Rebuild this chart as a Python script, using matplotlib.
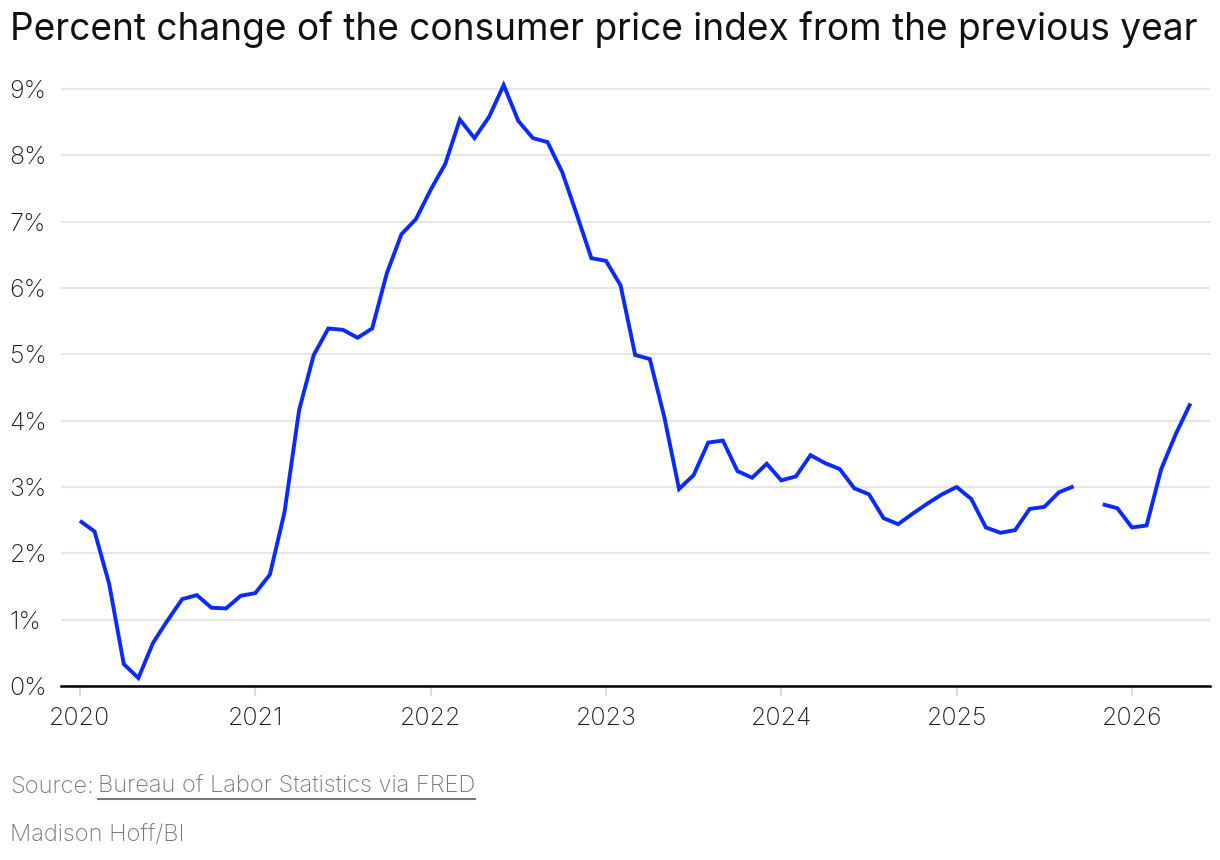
import numpy as np
import matplotlib.pyplot as plt
from matplotlib.lines import Line2D

# Monthly CPI percent change from a year earlier, Jan 2020 - May 2026 (Oct 2025 missing)
START_YEAR = 2020
CPI_YOY = [
    2.49, 2.33, 1.54, 0.33, 0.12, 0.65, 0.99, 1.31, 1.37, 1.18, 1.17, 1.36,   # 2020
    1.40, 1.68, 2.62, 4.16, 4.99, 5.39, 5.37, 5.25, 5.39, 6.22, 6.81, 7.04,   # 2021
    7.48, 7.87, 8.54, 8.26, 8.58, 9.06, 8.52, 8.26, 8.20, 7.75, 7.11, 6.45,   # 2022
    6.41, 6.04, 4.99, 4.93, 4.05, 2.97, 3.18, 3.67, 3.70, 3.24, 3.14, 3.35,   # 2023
    3.10, 3.16, 3.48, 3.36, 3.27, 2.98, 2.89, 2.53, 2.44, 2.60, 2.75, 2.89,   # 2024
    3.00, 2.82, 2.39, 2.31, 2.35, 2.67, 2.70, 2.92, 3.01, np.nan, 2.74, 2.68,  # 2025
    2.39, 2.42, 3.27, 3.80, 4.26,                                              # 2026
]
YEAR_TICKS = [2020, 2021, 2022, 2023, 2024, 2025, 2026]
PCT_TICKS = [0, 1, 2, 3, 4, 5, 6, 7, 8, 9]

TITLE = "Percent change of the consumer price index from the previous year"
SOURCE_LABEL = "Source:"
SOURCE_LINK = "Bureau of Labor Statistics via FRED"
CREDIT = "Madison Hoff/BI"

plt.rcParams['font.family'] = ['Inter', 'DejaVu Sans']

x = START_YEAR + np.arange(len(CPI_YOY)) / 12.0
y = np.array(CPI_YOY, dtype=float)

fig = plt.figure(figsize=(12.2, 8.6), dpi=100)
ax = fig.add_axes([61 / 1220, 1 - 686 / 860, (1210 - 61) / 1220, (686 - 82.4) / 860])

ax.plot(x, y, color='#0a2bff', linewidth=2.8, solid_joinstyle='miter',
        solid_capstyle='butt', clip_on=False, zorder=3)

ax.set_xlim(2019.892, 2026.445)
ax.set_ylim(0, 9.1)
ax.set_xticks(YEAR_TICKS)
ax.set_xticklabels([str(t) for t in YEAR_TICKS])
ax.set_yticks(PCT_TICKS)
ax.set_yticklabels([f"{t}%" for t in PCT_TICKS])

ax.grid(axis='y', color='#e6e6e6', linewidth=1.5, zorder=0)
for side in ['top', 'right', 'left']:
    ax.spines[side].set_visible(False)
ax.spines['bottom'].set_color('black')
ax.spines['bottom'].set_linewidth(1.8)
ax.spines['bottom'].set_zorder(4)

ax.tick_params(axis='x', length=7, width=1.5, color='#dcdcdc', pad=8,
               labelsize=18, labelcolor='#1a1a1a')
ax.tick_params(axis='y', length=0, pad=37, labelsize=18, labelcolor='#1a1a1a')
for lab in ax.get_yticklabels():
    lab.set_horizontalalignment('left')
for lab in ax.get_xticklabels() + ax.get_yticklabels():
    lab.set_fontweight('light')

fig.text(10 / 1220, 1 - 30 / 860, TITLE, fontsize=26.7, color='#111111',
         ha='left', va='center')

src = fig.text(10 / 1220, 1 - 787 / 860, SOURCE_LABEL, fontsize=17, color='#777777',
               ha='left', va='center', fontweight='light')
fig.canvas.draw()
renderer = fig.canvas.get_renderer()
bb = src.get_window_extent(renderer)
link = fig.text((bb.x1 + 4) / 1220, 1 - 787 / 860, SOURCE_LINK, fontsize=17, color='#777777',
                ha='left', va='center', fontweight='light')
lb = link.get_window_extent(renderer)
uy = (lb.y0 - 1) / 860
fig.add_artist(Line2D([lb.x0 / 1220, lb.x1 / 1220], [uy, uy], transform=fig.transFigure,
                      color='#777777', linewidth=1.5))

fig.text(10 / 1220, 1 - 835 / 860, CREDIT, fontsize=17, color='#777777',
         ha='left', va='center', fontweight='light')

fig.savefig('out.png', dpi=100)
